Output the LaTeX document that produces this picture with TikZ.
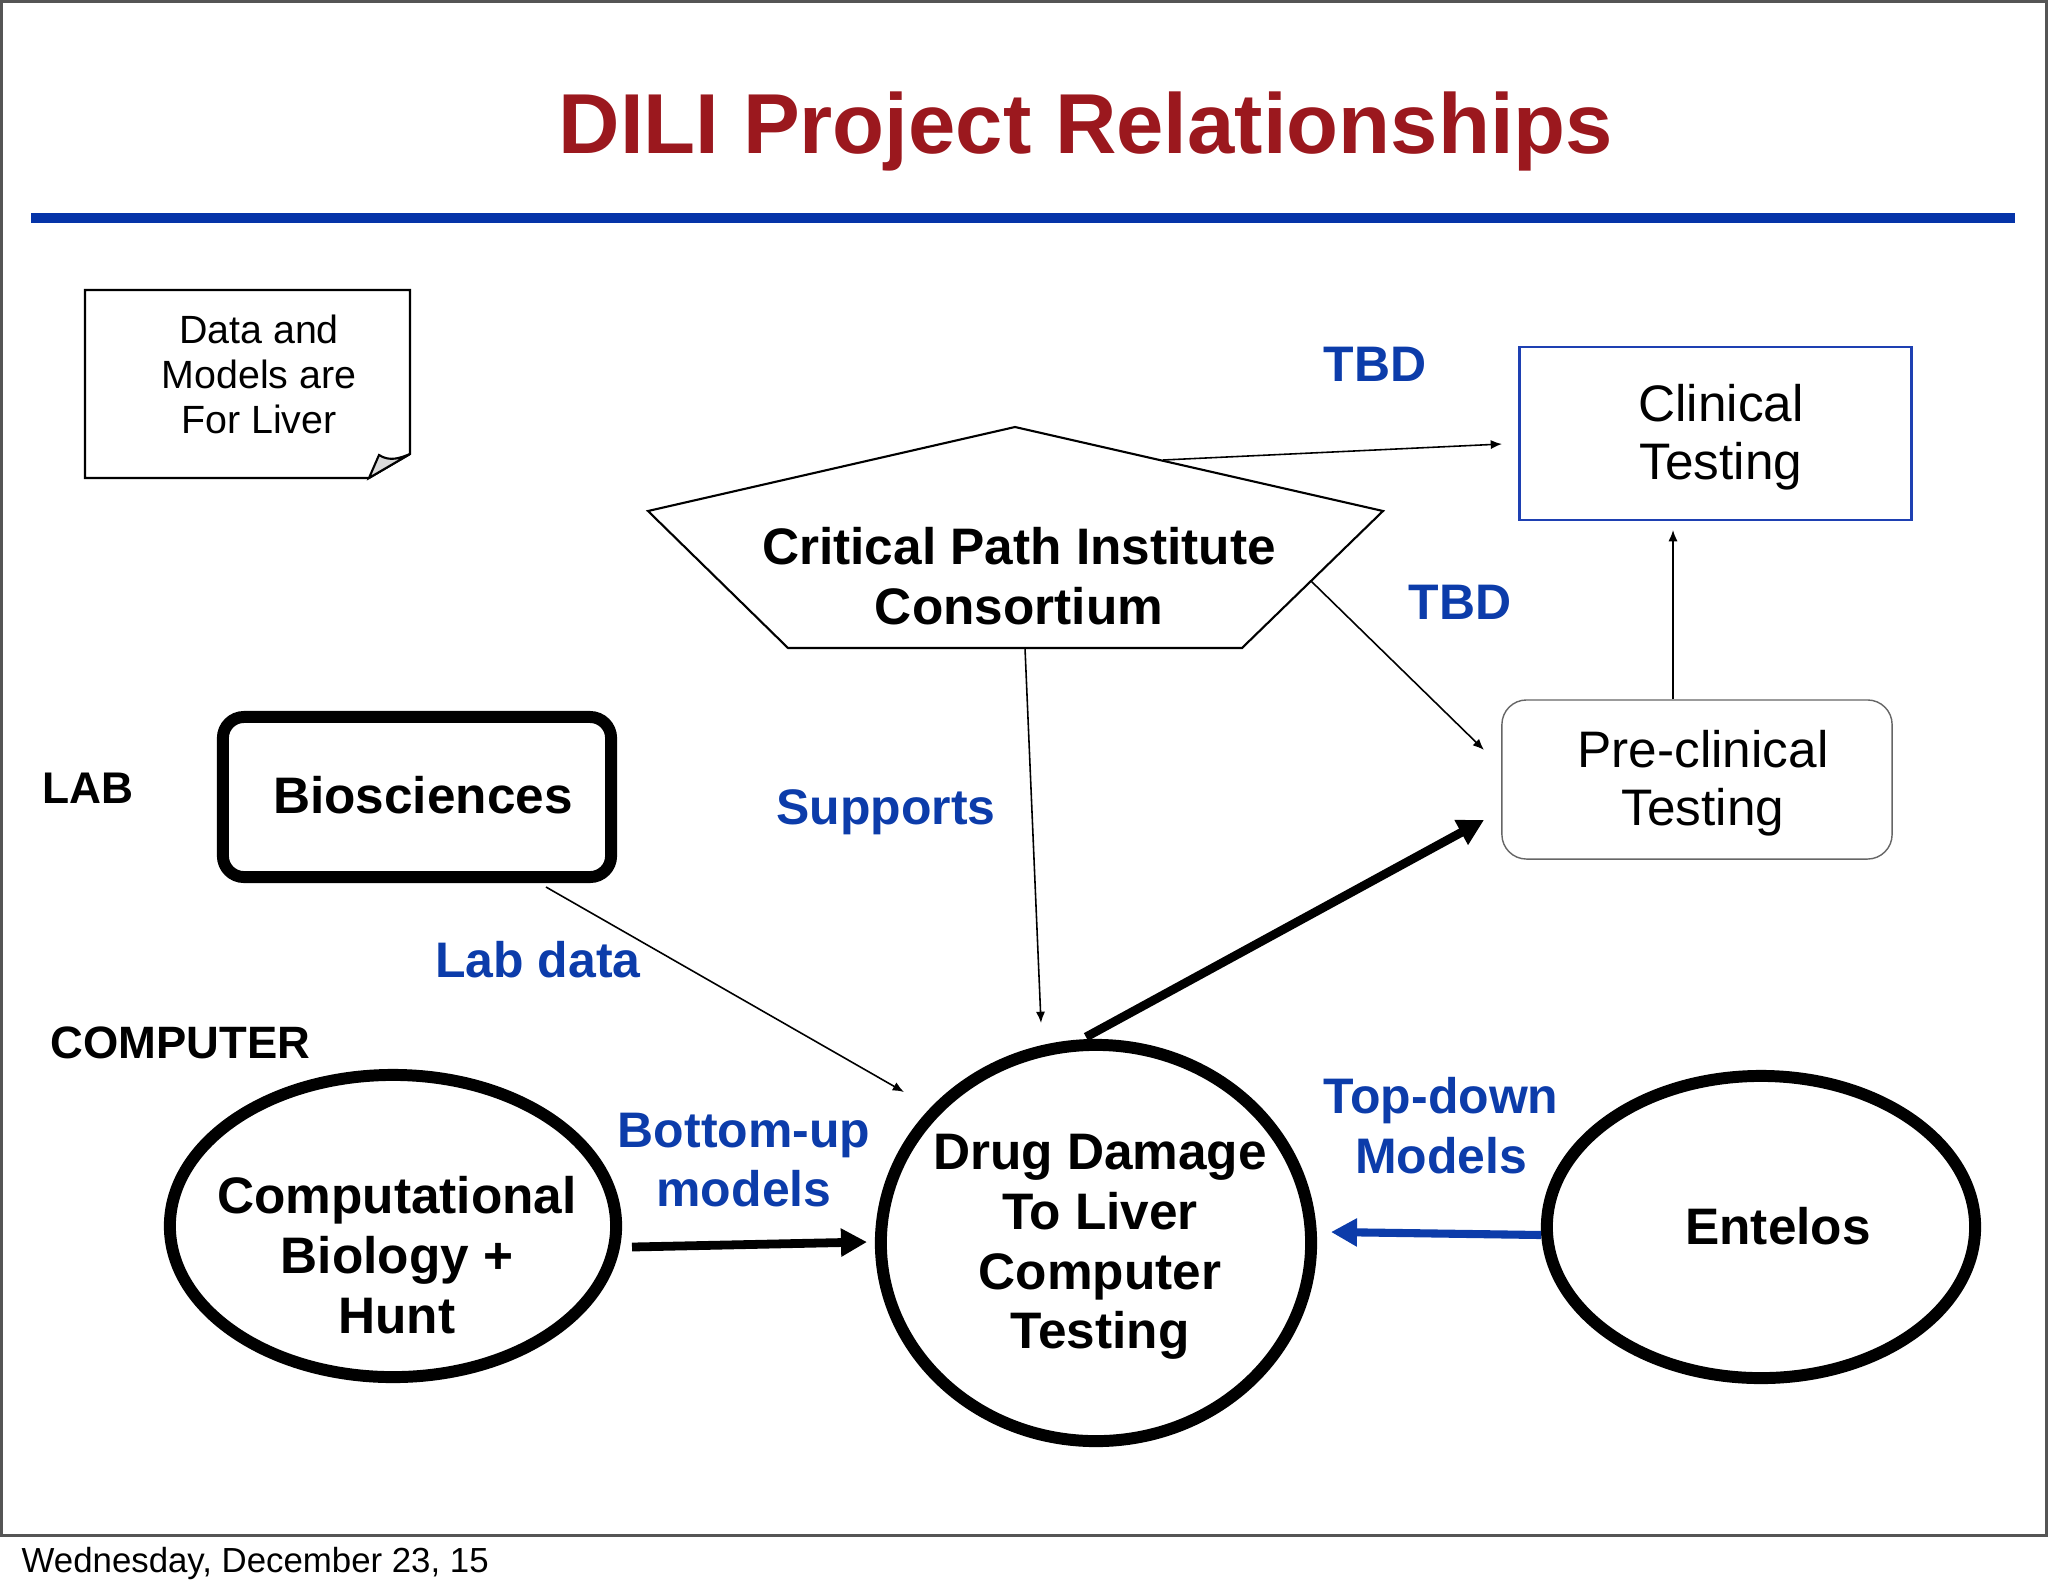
\documentclass[tikz,border=0pt]{standalone}
\usepackage{fontspec}
\setmainfont{Liberation Sans}
\usetikzlibrary{arrows.meta,shapes.geometric}
\definecolor{dilired}{RGB}{155,24,30}
\definecolor{diliblue}{RGB}{12,60,170}
\definecolor{rulecol}{RGB}{5,52,168}
\definecolor{clinblue}{RGB}{30,64,178}
\definecolor{framegray}{RGB}{85,85,85}

\begin{document}
\begin{tikzpicture}[x=0.01cm,y=-0.01cm,
        boldtext/.style={font=\fontsize{14.6}{17}\selectfont\bfseries,align=center,inner sep=0pt},
        bluetext/.style={boldtext,text=diliblue,font=\fontsize{14.2}{17}\selectfont\bfseries},
        plaintext/.style={font=\fontsize{14.6}{16.5}\selectfont,align=center,inner sep=0pt},
        ring/.style={ellipse,draw,line width=3.4pt,inner sep=0pt},
        thinarrow/.style={-{Latex[length=3.2pt,width=2.6pt]},line width=0.45pt},
        thickarrow/.style={-{Triangle[length=7.4pt,width=7.6pt]},line width=2.5pt}]

                              % Frame
                              \useasboundingbox (0,0) rectangle (2048,1593);
                              \draw[framegray,line width=0.8pt] (1.5,1.5) rectangle (2046.5,1535.5);
                              \node[anchor=base west,inner sep=0pt,font=\fontsize{9.9}{11}\selectfont] (date) at (21,1572) {Wednesday, December 23, 15};

                              % Title
                              \node[anchor=base,inner sep=0pt,text=dilired,font=\fontsize{24.2}{28}\selectfont\bfseries] (title) at (1086,153) {DILI Project Relationships};
                              \draw[rulecol,line width=2.6pt] (31,218) -- (2015,218);

                              % Note
                              \draw[line width=0.6pt] (85,290) -- (410,290) -- (410,454) -- (369,478) -- (85,478) -- cycle;
                              \draw[line width=0.6pt,fill=black!15] (369,478) -- (379,455)
                              .. controls (390,462) and (400,458) .. (410,454) -- cycle;
                              \node[align=center,inner sep=0pt,font=\fontsize{11.2}{12.8}\selectfont] (note) at (259,374) {Data and\\Models are\\For Liver};

                              % Consortium
                              \draw[line width=0.6pt] (1015,427) -- (1383,511) -- (1242,648) -- (788,648) -- (648,511) -- cycle;
                              \node[boldtext] (cpi) at (1019,576) {Critical Path Institute\\Consortium};
                              \coordinate (cpa) at (1163,460);
                              \coordinate (cpb) at (1311,581);
                              \coordinate (cpc) at (1025,648);

                              % Testing boxes
                              \node[rectangle,draw=clinblue,line width=0.8pt,
                                          minimum width=3.91cm,minimum height=1.73cm] (clin) at (1715.5,433.5) {};
                              \node[plaintext] (clintext) at (1721,437) {Clinical\\Testing};
                              \node[rectangle,rounded corners=7pt,draw=black!60,line width=0.4pt,
                                          minimum width=3.9cm,minimum height=1.59cm] (pre) at (1697,779.5) {};
                              \node[plaintext] (pretext) at (1703,783) {Pre-clinical\\Testing};
                              \node[bluetext,anchor=base] (tbda) at (1375,381) {TBD};
                              \node[bluetext,anchor=base] (tbdb) at (1460,619) {TBD};

                              % Lab and computer
                              \node[boldtext,anchor=base west,font=\fontsize{12.6}{15}\selectfont\bfseries] (lab) at (42,803) {LAB};
                              \node[boldtext,anchor=base west,font=\fontsize{12.9}{15}\selectfont\bfseries] (computer) at (50,1058) {COMPUTER};
                              \node[rectangle,draw,rounded corners=6pt,line width=3.4pt,
                                          minimum width=3.88cm,minimum height=1.6cm] (bio) at (417,797) {};
                              \node[boldtext] (biotext) at (423,795) {Biosciences};

                              \node[ring,minimum width=4.46cm,minimum height=3.02cm] (comp) at (393,1226) {};
                              \node[boldtext] (comptext) at (397,1255) {Computational\\Biology +\\Hunt};
                              \node[ring,minimum width=4.3cm,minimum height=3.96cm] (drug) at (1096,1243) {};
                              \node[boldtext] (drugtext) at (1100,1247) {Drug Damage\\To Liver\\Computer\\Testing};
                              \node[ring,minimum width=4.28cm,minimum height=3.02cm] (ent) at (1761,1227) {};
                              \node[boldtext] (enttext) at (1778,1226) {Entelos};

                              % Labels
                              \node[bluetext,anchor=base] (supports) at (886,824) {Supports};
                              \node[bluetext,anchor=base] (labdata) at (538,977) {Lab data};
                              \node[bluetext] (bottomup) at (744,1160) {Bottom-up\\models};
                              \node[bluetext] (topdown) at (1441,1126) {Top-down\\Models};

                              % Connectors
                              \coordinate (clinin) at (1502,444);
                              \coordinate (prein) at (1484,750);
                              \coordinate (drugin) at (1041,1023);
                              \coordinate (bioout) at (546,887);
                              \coordinate (labin) at (904,1092);
                              \coordinate (clinup) at (1673,530);
                              \coordinate (drugtop) at (1086,1037);
                              \coordinate (prelow) at (1484,820);
                              \coordinate (compout) at (632,1247);
                              \coordinate (drugleft) at (867,1242);
                              \coordinate (entout) at (1541,1235);
                              \coordinate (drugright) at (1331,1232);

                              \draw[thinarrow] (cpa) -- (clinin);
                              \draw[thinarrow] (cpb) -- (prein);
                              \draw[thinarrow] (cpc) -- (drugin);
                              \draw[thinarrow] (bioout) -- (labin);
                              \draw[thinarrow] (pre.north -| clinup) -- (clinup);
                              \draw[thickarrow] (drugtop) -- (prelow);
                              \draw[thickarrow] (compout) -- (drugleft);
                              \draw[thickarrow,diliblue,line width=2.3pt] (entout) -- (drugright);
                        \end{tikzpicture}
\end{document}
